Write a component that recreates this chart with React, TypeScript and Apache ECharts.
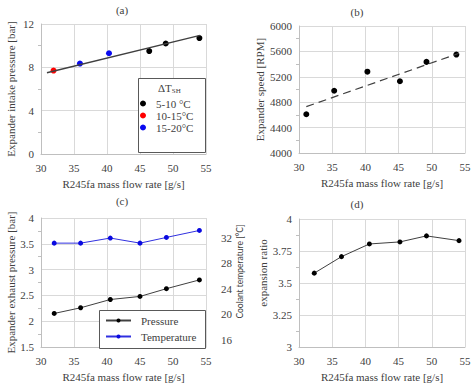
import React, { useEffect, useRef } from "react";
import * as echarts from "echarts";

const SERIF = "Liberation Serif, Times New Roman, serif";
const SANS = "Lato, Liberation Sans, sans-serif";
const TEXT = "#404040";
const GRID = "#d9d9d9";
const AXIS = "#bfbfbf";

// ---- (a) Expander intake pressure ----
const aFlowBlack = [46.4, 48.9, 54.0];
const aPressBlack = [9.5, 10.2, 10.7];
const aFlowRed = [31.9];
const aPressRed = [7.7];
const aFlowBlue = [35.9, 40.3];
const aPressBlue = [8.35, 9.3];
const aTrendFlow = [30.9, 54.1];
const aTrendPress = [7.5, 10.95];
const aLegendNames = ["5-10 °C", "10-15°C", "15-20°C"];

// ---- (b) Expander speed ----
const bFlow = [31.1, 35.3, 40.3, 45.2, 49.2, 53.7];
const bSpeed = [4610, 4980, 5280, 5130, 5435, 5550];
const bTrendFlow = [31.1, 54.1];
const bTrendSpeed = [4730, 5570];

// ---- (c) Exhaust pressure & coolant temperature ----
const cFlow = [32, 36, 40.5, 45, 49, 54];
const cPressure = [2.15, 2.26, 2.42, 2.48, 2.63, 2.8];
const cTemperature = [31.2, 31.2, 32.0, 31.2, 32.1, 33.2];
const cTempTicks = [16, 20, 24, 28, 32];

// ---- (d) Expansion ratio ----
const dFlow = [32.3, 36.4, 40.6, 45.2, 49.2, 54.1];
const dRatio = [3.577, 3.706, 3.805, 3.821, 3.868, 3.831];

const xName = "R245fa mass flow rate [g/s]";

const zip = (xs: number[], ys: number[]) => xs.map((x, i) => [x, ys[i]]);

const labelStyle = { fontFamily: SERIF, fontSize: 11, color: TEXT };
const plain = (v: number) => String(v);

function makeX(gridIndex: number) {
  return {
    type: "value",
    gridIndex,
    min: 30,
    max: 55,
    interval: 5,
    name: xName,
    nameLocation: "middle",
    nameGap: 24,
    nameTextStyle: { ...labelStyle },
    axisLine: { show: true, lineStyle: { color: AXIS } },
    axisTick: { show: false },
    axisLabel: { ...labelStyle, margin: 8, formatter: plain },
    splitLine: { show: true, lineStyle: { color: GRID } },
  };
}

function makeY(gridIndex: number, min: number, max: number, interval: number, name: string, nameGap: number, extra: any = {}) {
  return {
    type: "value",
    gridIndex,
    min,
    max,
    interval,
    name,
    nameLocation: "middle",
    nameGap,
    nameTextStyle: { ...labelStyle, ...(extra.nameTextStyle || {}) },
    axisLine: { show: true, lineStyle: { color: AXIS } },
    axisTick: { show: false },
    minorTick: { show: true, splitNumber: 2, length: 3, inside: true, lineStyle: { color: AXIS } },
    axisLabel: { ...labelStyle, margin: 7, formatter: plain },
    splitLine: { show: true, lineStyle: { color: GRID } },
  };
}

export default function App() {
  const ref = useRef<HTMLDivElement>(null);
  useEffect(() => {
    if (!ref.current) return;
    const chart = echarts.init(ref.current, null, { renderer: "svg" });
    const option: any = {
      animation: false,
      backgroundColor: "#ffffff",
      textStyle: { fontFamily: SERIF },
      grid: [
        { left: 41, top: 24, width: 165, height: 130 },
        { left: 299, top: 26, width: 166, height: 127 },
        { left: 41, top: 218, width: 165, height: 129 },
        { left: 299, top: 219, width: 166, height: 128 },
      ],
      xAxis: [makeX(0), makeX(1), makeX(2), makeX(3)],
      yAxis: [
        makeY(0, 0, 12, 4, "Expander intake pressure [bar]", 25),
        makeY(1, 4000, 6000, 400, "Expander speed [RPM]", 34),
        makeY(2, 1.5, 4, 0.5, "Expander exhaust pressure [bar]", 25),
        {
          type: "value",
          gridIndex: 2,
          position: "right",
          min: 14.84,
          max: 35.16,
          name: "Coolant temperature [°C]",
          nameLocation: "middle",
          nameRotate: 90,
          nameGap: 26,
          nameTextStyle: { fontFamily: SANS, fontSize: 8.5, color: TEXT, padding: [0, 0, 0, 22] },
          axisLine: { show: false },
          axisTick: { show: false },
          axisLabel: { ...labelStyle, margin: 15, customValues: cTempTicks, formatter: plain },
          splitLine: { show: false },
        },
        makeY(3, 3, 4, 0.25, "expansion ratio", 29, { nameTextStyle: { padding: [0, 0, 0, 20] } }),
      ],
      legend: [
        {
          data: aLegendNames,
          orient: "vertical",
          left: 135,
          top: 93,
          itemWidth: 6,
          itemHeight: 6,
          itemGap: 1,
          icon: "circle",
          selectedMode: false,
          textStyle: { ...labelStyle, padding: [0, 0, 0, 5] },
        },
        {
          data: ["Pressure", "Temperature"],
          orient: "vertical",
          left: 100,
          top: 310,
          itemWidth: 25,
          itemHeight: 5,
          itemGap: 5,
          selectedMode: false,
          textStyle: { ...labelStyle, padding: [0, 0, 0, 5] },
        },
      ],
      graphic: [
        { type: "rect", z: 3, shape: { x: 138.5, y: 78.5, width: 67, height: 74 }, style: { fill: "#fff", stroke: "#595959", lineWidth: 1 } },
        { type: "rect", z: 3, shape: { x: 99.5, y: 310.5, width: 106, height: 38 }, style: { fill: "#fff", stroke: "#595959", lineWidth: 1 } },
        {
          type: "text",
          z: 5,
          x: 158,
          y: 81,
          style: {
            text: "ΔT{sub|SH}",
            fontFamily: SERIF,
            fontSize: 11,
            fill: TEXT,
            rich: { sub: { fontFamily: SERIF, fontSize: 7, fill: TEXT, padding: [6, 0, 0, 0], verticalAlign: "bottom" } },
          },
        },
        { type: "text", x: 122, y: 10, style: { text: "(a)", fontFamily: SERIF, fontSize: 11, fill: TEXT, align: "center", verticalAlign: "middle" } },
        { type: "text", x: 357, y: 12, style: { text: "(b)", fontFamily: SERIF, fontSize: 11, fill: TEXT, align: "center", verticalAlign: "middle" } },
        { type: "text", x: 122, y: 201, style: { text: "(c)", fontFamily: SERIF, fontSize: 11, fill: TEXT, align: "center", verticalAlign: "middle" } },
        { type: "text", x: 357, y: 204, style: { text: "(d)", fontFamily: SERIF, fontSize: 11, fill: TEXT, align: "center", verticalAlign: "middle" } },
      ],
      series: [
        {
          type: "line",
          name: "trend-a",
          xAxisIndex: 0,
          yAxisIndex: 0,
          data: zip(aTrendFlow, aTrendPress),
          symbol: "none",
          lineStyle: { color: "#404040", width: 1.3 },
          silent: true,
        },
        { type: "scatter", name: aLegendNames[0], xAxisIndex: 0, yAxisIndex: 0, data: zip(aFlowBlack, aPressBlack), symbolSize: 6, itemStyle: { color: "#000000", opacity: 1 } },
        { type: "scatter", name: aLegendNames[1], xAxisIndex: 0, yAxisIndex: 0, data: zip(aFlowRed, aPressRed), symbolSize: 6, itemStyle: { color: "#ff0000", opacity: 1 } },
        { type: "scatter", name: aLegendNames[2], xAxisIndex: 0, yAxisIndex: 0, data: zip(aFlowBlue, aPressBlue), symbolSize: 6, itemStyle: { color: "#0a0af0", opacity: 1 } },
        {
          type: "line",
          name: "trend-b",
          xAxisIndex: 1,
          yAxisIndex: 1,
          data: zip(bTrendFlow, bTrendSpeed),
          symbol: "none",
          lineStyle: { color: "#404040", width: 1.2, type: [8, 5] },
          silent: true,
        },
        { type: "scatter", name: "speed", xAxisIndex: 1, yAxisIndex: 1, data: zip(bFlow, bSpeed), symbolSize: 6, itemStyle: { color: "#000000", opacity: 1 } },
        {
          type: "line",
          name: "Pressure",
          xAxisIndex: 2,
          yAxisIndex: 2,
          data: zip(cFlow, cPressure),
          symbol: "circle",
          symbolSize: 5,
          itemStyle: { color: "#000000" },
          lineStyle: { color: "#404040", width: 1 },
        },
        {
          type: "line",
          name: "Temperature",
          xAxisIndex: 2,
          yAxisIndex: 3,
          data: zip(cFlow, cTemperature),
          symbol: "circle",
          symbolSize: 5,
          itemStyle: { color: "#0a0ae0" },
          lineStyle: { color: "#3030e0", width: 1 },
        },
        {
          type: "line",
          name: "ratio",
          xAxisIndex: 3,
          yAxisIndex: 4,
          data: zip(dFlow, dRatio),
          symbol: "circle",
          symbolSize: 5,
          itemStyle: { color: "#000000" },
          lineStyle: { color: "#404040", width: 1 },
        },
      ],
    };
    chart.setOption(option);
    return () => chart.dispose();
  }, []);
  return <div ref={ref} style={{ width: 474, height: 386, position: "absolute", left: 0, top: 0 }} />;
}
